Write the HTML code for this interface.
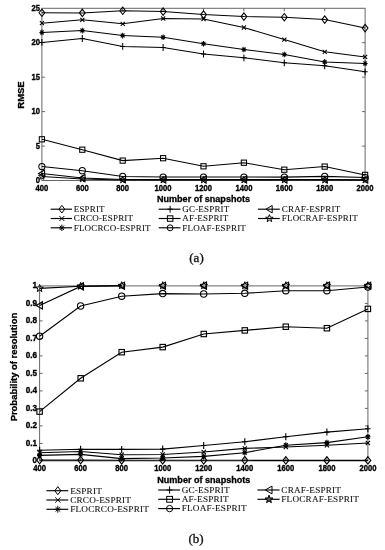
<!DOCTYPE html>
<html><head><meta charset="utf-8"><title>Figure</title>
<style>
html,body{margin:0;padding:0;background:#fff}
svg{display:block}
.tick text{font-family:"Liberation Sans",sans-serif;font-weight:bold;font-size:8.5px;fill:#000;stroke:#000;stroke-width:0.35px}
.tick text.lab{font-size:9.45px;stroke-width:0.32px}
.leg{font-family:"Liberation Serif",serif;font-size:7.4px;letter-spacing:1.18px;fill:#111;stroke:#111;stroke-width:0.08px}
.cap{font-family:"Liberation Serif","DejaVu Serif",serif;font-size:12.3px;fill:#111;stroke:#111;stroke-width:0.3px}
</style></head><body>
<svg width="385" height="550" viewBox="0 0 385 550">
<rect width="385" height="550" fill="#fff"/>
<g stroke="#666" stroke-width="1" fill="none">
<rect x="41.9" y="8.3" width="323.2" height="172.2"/>
<path d="M82.3 180.5v-3M82.3 8.3v3M122.7 180.5v-3M122.7 8.3v3M163.1 180.5v-3M163.1 8.3v3M203.5 180.5v-3M203.5 8.3v3M243.9 180.5v-3M243.9 8.3v3M284.3 180.5v-3M284.3 8.3v3M324.7 180.5v-3M324.7 8.3v3M41.9 146.1h3M365.1 146.1h-3M41.9 111.6h3M365.1 111.6h-3M41.9 77.2h3M365.1 77.2h-3M41.9 42.7h3M365.1 42.7h-3"/>
</g>
<g class="tick">
<text transform="translate(41.9 190.6) scale(0.9 1)" text-anchor="middle">400</text>
<text transform="translate(82.3 190.6) scale(0.9 1)" text-anchor="middle">600</text>
<text transform="translate(122.7 190.6) scale(0.9 1)" text-anchor="middle">800</text>
<text transform="translate(163.1 190.6) scale(0.9 1)" text-anchor="middle">1000</text>
<text transform="translate(203.5 190.6) scale(0.9 1)" text-anchor="middle">1200</text>
<text transform="translate(243.9 190.6) scale(0.9 1)" text-anchor="middle">1400</text>
<text transform="translate(284.3 190.6) scale(0.9 1)" text-anchor="middle">1600</text>
<text transform="translate(324.7 190.6) scale(0.9 1)" text-anchor="middle">1800</text>
<text transform="translate(365.1 190.6) scale(0.9 1)" text-anchor="middle">2000</text>
<text transform="translate(39.9 182.9) scale(0.9 1)" text-anchor="end">0</text>
<text transform="translate(39.9 148.5) scale(0.9 1)" text-anchor="end">5</text>
<text transform="translate(39.9 114.0) scale(0.9 1)" text-anchor="end">10</text>
<text transform="translate(39.9 79.6) scale(0.9 1)" text-anchor="end">15</text>
<text transform="translate(39.9 45.1) scale(0.9 1)" text-anchor="end">20</text>
<text transform="translate(39.9 10.7) scale(0.9 1)" text-anchor="end">25</text>
<text class="lab" transform="translate(203.5 202.0) scale(0.96 1)" text-anchor="middle">Number of snapshots</text>
<text class="lab" transform="translate(24.2 95.0) rotate(-90) scale(1 0.96)" text-anchor="middle">RMSE</text>
</g>
<g stroke="#000" stroke-width="1.05" stroke-linejoin="miter">
<polyline points="41.9,12.8 82.3,12.9 122.7,10.8 163.1,11.6 203.5,14.6 243.9,16.6 284.3,17.2 324.7,19.6 365.1,28.1" fill="none"/>
<path d="M39.0 12.8L41.9 9.1L44.8 12.8L41.9 16.5Z" fill="none"/>
<path d="M79.5 12.9L82.3 9.2L85.2 12.9L82.3 16.6Z" fill="none"/>
<path d="M119.9 10.8L122.7 7.1L125.6 10.8L122.7 14.5Z" fill="none"/>
<path d="M160.3 11.6L163.1 7.9L166.0 11.6L163.1 15.3Z" fill="none"/>
<path d="M200.7 14.6L203.5 10.9L206.4 14.6L203.5 18.3Z" fill="none"/>
<path d="M241.1 16.6L243.9 12.9L246.8 16.6L243.9 20.3Z" fill="none"/>
<path d="M281.4 17.2L284.3 13.5L287.2 17.2L284.3 20.9Z" fill="none"/>
<path d="M321.9 19.6L324.7 15.9L327.6 19.6L324.7 23.3Z" fill="none"/>
<path d="M362.2 28.1L365.1 24.4L368.0 28.1L365.1 31.8Z" fill="none"/>
<polyline points="41.9,23.2 82.3,19.8 122.7,23.8 163.1,18.5 203.5,19.0 243.9,27.5 284.3,39.6 324.7,51.8 365.1,56.9" fill="none"/>
<path d="M39.9 21.1L43.9 25.2M39.9 25.2L43.9 21.1"/>
<path d="M80.3 17.8L84.4 21.9M80.3 21.9L84.4 17.8"/>
<path d="M120.7 21.8L124.8 25.9M120.7 25.9L124.8 21.8"/>
<path d="M161.1 16.4L165.2 20.6M161.1 20.6L165.2 16.4"/>
<path d="M201.5 16.9L205.6 21.1M201.5 21.1L205.6 16.9"/>
<path d="M241.9 25.4L246.0 29.6M241.9 29.6L246.0 25.4"/>
<path d="M282.2 37.6L286.4 41.6M282.2 41.6L286.4 37.6"/>
<path d="M322.7 49.8L326.8 53.8M322.7 53.8L326.8 49.8"/>
<path d="M363.1 54.9L367.2 58.9M363.1 58.9L367.2 54.9"/>
<polyline points="41.9,32.4 82.3,30.6 122.7,35.6 163.1,37.2 203.5,43.7 243.9,49.5 284.3,54.5 324.7,61.9 365.1,63.4" fill="none"/>
<path d="M39.4 32.4L44.4 32.4M41.9 29.6L41.9 35.2M40.0 30.5L43.8 34.3M40.0 34.3L43.8 30.5"/>
<path d="M79.8 30.6L84.8 30.6M82.3 27.8L82.3 33.4M80.4 28.7L84.2 32.5M80.4 32.5L84.2 28.7"/>
<path d="M120.2 35.6L125.2 35.6M122.7 32.8L122.7 38.4M120.8 33.7L124.6 37.5M120.8 37.5L124.6 33.7"/>
<path d="M160.6 37.2L165.6 37.2M163.1 34.4L163.1 40.0M161.2 35.3L165.0 39.1M161.2 39.1L165.0 35.3"/>
<path d="M201.0 43.7L206.0 43.7M203.5 40.9L203.5 46.5M201.6 41.8L205.4 45.6M201.6 45.6L205.4 41.8"/>
<path d="M241.4 49.5L246.4 49.5M243.9 46.7L243.9 52.3M242.0 47.6L245.8 51.4M242.0 51.4L245.8 47.6"/>
<path d="M281.8 54.5L286.8 54.5M284.3 51.7L284.3 57.3M282.4 52.6L286.2 56.4M282.4 56.4L286.2 52.6"/>
<path d="M322.2 61.9L327.2 61.9M324.7 59.1L324.7 64.7M322.8 60.0L326.6 63.8M322.8 63.8L326.6 60.0"/>
<path d="M362.6 63.4L367.6 63.4M365.1 60.6L365.1 66.2M363.2 61.5L367.0 65.3M363.2 65.3L367.0 61.5"/>
<polyline points="41.9,42.4 82.3,38.5 122.7,46.4 163.1,47.5 203.5,54.0 243.9,57.8 284.3,62.8 324.7,65.8 365.1,71.8" fill="none"/>
<path d="M39.3 42.4L44.5 42.4M41.9 39.0L41.9 45.8"/>
<path d="M79.7 38.5L84.9 38.5M82.3 35.1L82.3 41.9"/>
<path d="M120.1 46.4L125.3 46.4M122.7 43.0L122.7 49.8"/>
<path d="M160.5 47.5L165.7 47.5M163.1 44.1L163.1 50.9"/>
<path d="M200.9 54.0L206.1 54.0M203.5 50.6L203.5 57.4"/>
<path d="M241.3 57.8L246.5 57.8M243.9 54.4L243.9 61.2"/>
<path d="M281.7 62.8L286.9 62.8M284.3 59.4L284.3 66.2"/>
<path d="M322.1 65.8L327.3 65.8M324.7 62.4L324.7 69.2"/>
<path d="M362.5 71.8L367.7 71.8M365.1 68.4L365.1 75.2"/>
<polyline points="41.9,139.3 82.3,149.7 122.7,160.6 163.1,158.2 203.5,166.3 243.9,162.7 284.3,169.7 324.7,166.6 365.1,174.9" fill="none"/>
<rect x="39.3" y="136.7" width="5.2" height="5.2" fill="none"/>
<rect x="79.7" y="147.1" width="5.2" height="5.2" fill="none"/>
<rect x="120.1" y="158.0" width="5.2" height="5.2" fill="none"/>
<rect x="160.5" y="155.6" width="5.2" height="5.2" fill="none"/>
<rect x="200.9" y="163.7" width="5.2" height="5.2" fill="none"/>
<rect x="241.3" y="160.1" width="5.2" height="5.2" fill="none"/>
<rect x="281.7" y="167.1" width="5.2" height="5.2" fill="none"/>
<rect x="322.1" y="164.0" width="5.2" height="5.2" fill="none"/>
<rect x="362.5" y="172.3" width="5.2" height="5.2" fill="none"/>
<polyline points="41.9,166.6 82.3,170.7 122.7,176.4 163.1,177.0 203.5,177.0 243.9,177.0 284.3,177.1 324.7,176.4 365.1,177.5" fill="none"/>
<ellipse cx="41.9" cy="166.6" rx="3.06" ry="3.1" fill="none"/>
<ellipse cx="82.3" cy="170.7" rx="3.06" ry="3.1" fill="none"/>
<ellipse cx="122.7" cy="176.4" rx="3.06" ry="3.1" fill="none"/>
<ellipse cx="163.1" cy="177.0" rx="3.06" ry="3.1" fill="none"/>
<ellipse cx="203.5" cy="177.0" rx="3.06" ry="3.1" fill="none"/>
<ellipse cx="243.9" cy="177.0" rx="3.06" ry="3.1" fill="none"/>
<ellipse cx="284.3" cy="177.1" rx="3.06" ry="3.1" fill="none"/>
<ellipse cx="324.7" cy="176.4" rx="3.06" ry="3.1" fill="none"/>
<ellipse cx="365.1" cy="177.5" rx="3.06" ry="3.1" fill="none"/>
<polyline points="41.9,173.5 82.3,178.0 122.7,179.4 163.1,179.6 203.5,179.6 243.9,179.6 284.3,179.6 324.7,179.6 365.1,179.7" fill="none"/>
<path d="M38.6 173.5L44.6 170.0L44.6 177.0Z" fill="none"/>
<path d="M79.0 178.0L85.0 174.5L85.0 181.5Z" fill="none"/>
<path d="M119.4 179.4L125.4 175.9L125.4 182.9Z" fill="none"/>
<path d="M159.8 179.6L165.8 176.1L165.8 183.1Z" fill="none"/>
<path d="M200.2 179.6L206.2 176.1L206.2 183.1Z" fill="none"/>
<path d="M240.6 179.6L246.6 176.1L246.6 183.1Z" fill="none"/>
<path d="M281.0 179.6L287.0 176.1L287.0 183.1Z" fill="none"/>
<path d="M321.4 179.6L327.4 176.1L327.4 183.1Z" fill="none"/>
<path d="M361.8 179.7L367.8 176.2L367.8 183.2Z" fill="none"/>
<polyline points="41.9,176.4 82.3,179.0 122.7,179.9 163.1,180.0 203.5,180.0 243.9,180.0 284.3,180.0 324.7,180.0 365.1,180.1" fill="none"/>
<path stroke-linejoin="bevel" stroke-width="0.95" d="M41.90 172.80L42.79 175.18L45.32 175.29L43.34 176.87L44.02 179.31L41.90 177.91L39.78 179.31L40.46 176.87L38.48 175.29L41.01 175.18Z" fill="none"/>
<path stroke-linejoin="bevel" stroke-width="0.95" d="M82.30 175.40L83.19 177.78L85.72 177.89L83.74 179.47L84.42 181.91L82.30 180.51L80.18 181.91L80.86 179.47L78.88 177.89L81.41 177.78Z" fill="none"/>
<path stroke-linejoin="bevel" stroke-width="0.95" d="M122.70 176.30L123.59 178.68L126.12 178.79L124.14 180.37L124.82 182.81L122.70 181.41L120.58 182.81L121.26 180.37L119.28 178.79L121.81 178.68Z" fill="none"/>
<path stroke-linejoin="bevel" stroke-width="0.95" d="M163.10 176.40L163.99 178.78L166.52 178.89L164.54 180.47L165.22 182.91L163.10 181.51L160.98 182.91L161.66 180.47L159.68 178.89L162.21 178.78Z" fill="none"/>
<path stroke-linejoin="bevel" stroke-width="0.95" d="M203.50 176.40L204.39 178.78L206.92 178.89L204.94 180.47L205.62 182.91L203.50 181.51L201.38 182.91L202.06 180.47L200.08 178.89L202.61 178.78Z" fill="none"/>
<path stroke-linejoin="bevel" stroke-width="0.95" d="M243.90 176.40L244.79 178.78L247.32 178.89L245.34 180.47L246.02 182.91L243.90 181.51L241.78 182.91L242.46 180.47L240.48 178.89L243.01 178.78Z" fill="none"/>
<path stroke-linejoin="bevel" stroke-width="0.95" d="M284.30 176.40L285.19 178.78L287.72 178.89L285.74 180.47L286.42 182.91L284.30 181.51L282.18 182.91L282.86 180.47L280.88 178.89L283.41 178.78Z" fill="none"/>
<path stroke-linejoin="bevel" stroke-width="0.95" d="M324.70 176.40L325.59 178.78L328.12 178.89L326.14 180.47L326.82 182.91L324.70 181.51L322.58 182.91L323.26 180.47L321.28 178.89L323.81 178.78Z" fill="none"/>
<path stroke-linejoin="bevel" stroke-width="0.95" d="M365.10 176.50L365.99 178.88L368.52 178.99L366.54 180.57L367.22 183.01L365.10 181.61L362.98 183.01L363.66 180.57L361.68 178.99L364.21 178.88Z" fill="none"/>
</g>
<g stroke="#000" stroke-width="1.0"><path stroke-width="1.15" d="M50.7 209.2H72.0"/><path d="M58.9 209.2L61.9 205.4L64.8 209.2L61.9 213.0Z" fill="none"/></g>
<text class="leg" style="font-size:8.2px;letter-spacing:0.16px" transform="translate(73.7 212.0) scale(1.1 1)">ESPRIT</text>
<g stroke="#000" stroke-width="1.0"><path stroke-width="1.15" d="M50.7 218.5H72.0"/><path d="M59.4 216.0L64.3 221.0M59.4 221.0L64.3 216.0"/></g>
<text class="leg" style="font-size:8.2px;letter-spacing:0.16px" transform="translate(73.7 221.3) scale(1.1 1)">CRCO-ESPRIT</text>
<g stroke="#000" stroke-width="1.0"><path stroke-width="1.15" d="M50.7 227.8H72.0"/><path d="M59.0 227.8L64.7 227.8M61.9 224.6L61.9 231.0M59.7 225.6L64.0 230.0M59.7 230.0L64.0 225.6"/></g>
<text class="leg" style="font-size:8.2px;letter-spacing:0.16px" transform="translate(73.7 230.6) scale(1.1 1)">FLOCRCO-ESPRIT</text>
<g stroke="#000" stroke-width="1.0"><path stroke-width="1.15" d="M158.7 209.2H180.5"/><path d="M167.5 209.2L172.7 209.2M170.1 205.8L170.1 212.6"/></g>
<text class="leg" style="font-size:8.2px;letter-spacing:0.16px" transform="translate(182.3 212.0) scale(1.1 1)">GC-ESPRIT</text>
<g stroke="#000" stroke-width="1.0"><path stroke-width="1.15" d="M158.7 218.5H180.5"/><rect x="167.4" y="215.8" width="5.5" height="5.5" fill="none"/></g>
<text class="leg" style="font-size:8.2px;letter-spacing:0.16px" transform="translate(182.3 221.3) scale(1.1 1)">AF-ESPRIT</text>
<g stroke="#000" stroke-width="1.0"><path stroke-width="1.15" d="M158.7 227.8H180.5"/><ellipse cx="170.1" cy="227.8" rx="2.90" ry="3.0" fill="none"/></g>
<text class="leg" style="font-size:8.2px;letter-spacing:0.16px" transform="translate(182.3 230.6) scale(1.1 1)">FLOAF-ESPRIT</text>
<g stroke="#000" stroke-width="1.0"><path stroke-width="1.15" d="M258.0 209.2H279.8"/><path d="M265.9 209.2L272.2 205.5L272.2 212.9Z" fill="none"/></g>
<text class="leg" style="font-size:8.2px;letter-spacing:0.16px" transform="translate(281.8 212.0) scale(1.1 1)">CRAF-ESPRIT</text>
<g stroke="#000" stroke-width="1.0"><path stroke-width="1.15" d="M258.0 218.5H279.8"/><path stroke-linejoin="bevel" stroke-width="0.95" d="M269.40 214.61L270.36 217.18L273.10 217.30L270.95 219.00L271.69 221.65L269.40 220.13L267.11 221.65L267.85 219.00L265.70 217.30L268.44 217.18Z" fill="none"/></g>
<text class="leg" style="font-size:8.2px;letter-spacing:0.16px" transform="translate(281.8 221.3) scale(1.1 1)">FLOCRAF-ESPRIT</text>
<text class="cap" transform="translate(196.5 262) scale(1.06 1)" text-anchor="middle">(a)</text>
<g stroke="#666" stroke-width="1" fill="none">
<rect x="39.6" y="285.9" width="328.3" height="175.0"/>
<path d="M80.6 460.9v-3M80.6 285.9v3M121.7 460.9v-3M121.7 285.9v3M162.7 460.9v-3M162.7 285.9v3M203.7 460.9v-3M203.7 285.9v3M244.8 460.9v-3M244.8 285.9v3M285.8 460.9v-3M285.8 285.9v3M326.9 460.9v-3M326.9 285.9v3M39.6 443.4h3M367.9 443.4h-3M39.6 425.9h3M367.9 425.9h-3M39.6 408.4h3M367.9 408.4h-3M39.6 390.9h3M367.9 390.9h-3M39.6 373.4h3M367.9 373.4h-3M39.6 355.9h3M367.9 355.9h-3M39.6 338.4h3M367.9 338.4h-3M39.6 320.9h3M367.9 320.9h-3M39.6 303.4h3M367.9 303.4h-3"/>
</g>
<g class="tick">
<text transform="translate(39.6 470.9) scale(0.9 1)" text-anchor="middle">400</text>
<text transform="translate(80.6 470.9) scale(0.9 1)" text-anchor="middle">600</text>
<text transform="translate(121.7 470.9) scale(0.9 1)" text-anchor="middle">800</text>
<text transform="translate(162.7 470.9) scale(0.9 1)" text-anchor="middle">1000</text>
<text transform="translate(203.7 470.9) scale(0.9 1)" text-anchor="middle">1200</text>
<text transform="translate(244.8 470.9) scale(0.9 1)" text-anchor="middle">1400</text>
<text transform="translate(285.8 470.9) scale(0.9 1)" text-anchor="middle">1600</text>
<text transform="translate(326.9 470.9) scale(0.9 1)" text-anchor="middle">1800</text>
<text transform="translate(367.9 470.9) scale(0.9 1)" text-anchor="middle">2000</text>
<text transform="translate(37.0 463.3) scale(0.96 1)" text-anchor="end">0</text>
<text transform="translate(37.0 445.8) scale(0.96 1)" text-anchor="end">0.1</text>
<text transform="translate(37.0 428.3) scale(0.96 1)" text-anchor="end">0.2</text>
<text transform="translate(37.0 410.8) scale(0.96 1)" text-anchor="end">0.3</text>
<text transform="translate(37.0 393.3) scale(0.96 1)" text-anchor="end">0.4</text>
<text transform="translate(37.0 375.8) scale(0.96 1)" text-anchor="end">0.5</text>
<text transform="translate(37.0 358.3) scale(0.96 1)" text-anchor="end">0.6</text>
<text transform="translate(37.0 340.8) scale(0.96 1)" text-anchor="end">0.7</text>
<text transform="translate(37.0 323.3) scale(0.96 1)" text-anchor="end">0.8</text>
<text transform="translate(37.0 305.8) scale(0.96 1)" text-anchor="end">0.9</text>
<text transform="translate(37.0 288.3) scale(0.96 1)" text-anchor="end">1</text>
<text class="lab" transform="translate(203.8 483.2) scale(0.96 1)" text-anchor="middle">Number of snapshots</text>
<text class="lab" transform="translate(17.1 367.1) rotate(-90) scale(1 0.96)" text-anchor="middle">Probability of resolution</text>
</g>
<g stroke="#000" stroke-width="1.12" stroke-linejoin="miter">
<polyline points="39.6,460.1 80.6,460.1 121.7,460.2 162.7,460.2 203.7,460.3 244.8,460.3 285.8,460.4 326.9,460.4 367.9,460.4" fill="none"/>
<path d="M36.7 460.1L39.6 456.3L42.5 460.1L39.6 463.9Z" fill="none"/>
<path d="M77.7 460.1L80.6 456.3L83.6 460.1L80.6 463.9Z" fill="none"/>
<path d="M118.7 460.2L121.7 456.4L124.6 460.2L121.7 464.0Z" fill="none"/>
<path d="M159.8 460.2L162.7 456.4L165.6 460.2L162.7 464.0Z" fill="none"/>
<path d="M200.8 460.3L203.7 456.5L206.7 460.3L203.7 464.1Z" fill="none"/>
<path d="M241.9 460.3L244.8 456.5L247.7 460.3L244.8 464.1Z" fill="none"/>
<path d="M282.9 460.4L285.8 456.6L288.8 460.4L285.8 464.2Z" fill="none"/>
<path d="M323.9 460.4L326.9 456.6L329.8 460.4L326.9 464.2Z" fill="none"/>
<path d="M365.0 460.4L367.9 456.6L370.8 460.4L367.9 464.2Z" fill="none"/>
<polyline points="39.6,452.8 80.6,451.5 121.7,454.7 162.7,454.5 203.7,452.0 244.8,448.4 285.8,447.0 326.9,445.2 367.9,443.0" fill="none"/>
<path d="M37.5 450.7L41.7 454.9M37.5 454.9L41.7 450.7"/>
<path d="M78.5 449.4L82.7 453.6M78.5 453.6L82.7 449.4"/>
<path d="M119.6 452.6L123.8 456.8M119.6 456.8L123.8 452.6"/>
<path d="M160.6 452.4L164.8 456.6M160.6 456.6L164.8 452.4"/>
<path d="M201.6 449.9L205.9 454.1M201.6 454.1L205.9 449.9"/>
<path d="M242.7 446.3L246.9 450.5M242.7 450.5L246.9 446.3"/>
<path d="M283.7 444.9L287.9 449.1M283.7 449.1L287.9 444.9"/>
<path d="M324.8 443.1L329.0 447.3M324.8 447.3L329.0 443.1"/>
<path d="M365.8 440.9L370.0 445.1M365.8 445.1L370.0 440.9"/>
<polyline points="39.6,455.4 80.6,454.4 121.7,458.6 162.7,458.0 203.7,456.4 244.8,452.7 285.8,445.2 326.9,442.6 367.9,436.8" fill="none"/>
<path d="M37.0 455.4L42.2 455.4M39.6 452.5L39.6 458.3M37.6 453.4L41.6 457.4M37.6 457.4L41.6 453.4"/>
<path d="M78.1 454.4L83.2 454.4M80.6 451.5L80.6 457.3M78.7 452.4L82.6 456.4M78.7 456.4L82.6 452.4"/>
<path d="M119.1 458.6L124.2 458.6M121.7 455.7L121.7 461.5M119.7 456.6L123.6 460.6M119.7 460.6L123.6 456.6"/>
<path d="M160.1 458.0L165.3 458.0M162.7 455.1L162.7 460.9M160.8 456.0L164.7 460.0M160.8 460.0L164.7 456.0"/>
<path d="M201.2 456.4L206.3 456.4M203.7 453.5L203.7 459.3M201.8 454.4L205.7 458.4M201.8 458.4L205.7 454.4"/>
<path d="M242.2 452.7L247.4 452.7M244.8 449.8L244.8 455.6M242.8 450.7L246.7 454.7M242.8 454.7L246.7 450.7"/>
<path d="M283.2 445.2L288.4 445.2M285.8 442.3L285.8 448.1M283.9 443.2L287.8 447.2M283.9 447.2L287.8 443.2"/>
<path d="M324.3 442.6L329.4 442.6M326.9 439.7L326.9 445.5M324.9 440.6L328.8 444.6M324.9 444.6L328.8 440.6"/>
<path d="M365.3 436.8L370.5 436.8M367.9 433.9L367.9 439.7M365.9 434.8L369.9 438.8M365.9 438.8L369.9 434.8"/>
<polyline points="39.6,450.2 80.6,449.2 121.7,449.4 162.7,449.1 203.7,445.5 244.8,441.8 285.8,436.8 326.9,432.1 367.9,428.8" fill="none"/>
<path d="M36.9 450.2L42.3 450.2M39.6 446.7L39.6 453.7"/>
<path d="M78.0 449.2L83.3 449.2M80.6 445.7L80.6 452.7"/>
<path d="M119.0 449.4L124.4 449.4M121.7 445.9L121.7 452.9"/>
<path d="M160.0 449.1L165.4 449.1M162.7 445.6L162.7 452.6"/>
<path d="M201.1 445.5L206.4 445.5M203.7 442.0L203.7 449.0"/>
<path d="M242.1 441.8L247.5 441.8M244.8 438.3L244.8 445.3"/>
<path d="M283.1 436.8L288.5 436.8M285.8 433.3L285.8 440.3"/>
<path d="M324.2 432.1L329.5 432.1M326.9 428.6L326.9 435.6"/>
<path d="M365.2 428.8L370.6 428.8M367.9 425.3L367.9 432.3"/>
<polyline points="39.6,411.6 80.6,378.3 121.7,352.2 162.7,347.1 203.7,334.0 244.8,330.4 285.8,326.7 326.9,328.2 367.9,308.9" fill="none"/>
<rect x="36.9" y="408.9" width="5.4" height="5.4" fill="none"/>
<rect x="78.0" y="375.6" width="5.4" height="5.4" fill="none"/>
<rect x="119.0" y="349.5" width="5.4" height="5.4" fill="none"/>
<rect x="160.0" y="344.4" width="5.4" height="5.4" fill="none"/>
<rect x="201.1" y="331.3" width="5.4" height="5.4" fill="none"/>
<rect x="242.1" y="327.7" width="5.4" height="5.4" fill="none"/>
<rect x="283.1" y="324.0" width="5.4" height="5.4" fill="none"/>
<rect x="324.2" y="325.5" width="5.4" height="5.4" fill="none"/>
<rect x="365.2" y="306.2" width="5.4" height="5.4" fill="none"/>
<polyline points="39.6,336.2 80.6,306.0 121.7,296.2 162.7,293.6 203.7,294.0 244.8,293.3 285.8,290.7 326.9,290.7 367.9,287.0" fill="none"/>
<ellipse cx="39.6" cy="336.2" rx="3.15" ry="3.2" fill="none"/>
<ellipse cx="80.6" cy="306.0" rx="3.15" ry="3.2" fill="none"/>
<ellipse cx="121.7" cy="296.2" rx="3.15" ry="3.2" fill="none"/>
<ellipse cx="162.7" cy="293.6" rx="3.15" ry="3.2" fill="none"/>
<ellipse cx="203.7" cy="294.0" rx="3.15" ry="3.2" fill="none"/>
<ellipse cx="244.8" cy="293.3" rx="3.15" ry="3.2" fill="none"/>
<ellipse cx="285.8" cy="290.7" rx="3.15" ry="3.2" fill="none"/>
<ellipse cx="326.9" cy="290.7" rx="3.15" ry="3.2" fill="none"/>
<ellipse cx="367.9" cy="287.0" rx="3.15" ry="3.2" fill="none"/>
<polyline points="39.6,288.4 80.6,286.2 121.7,285.6" fill="none"/>
<path stroke-linejoin="bevel" stroke-width="1.0" d="M39.60 284.49L40.57 287.07L43.32 287.19L41.16 288.91L41.90 291.57L39.60 290.04L37.30 291.57L38.04 288.91L35.88 287.19L38.63 287.07Z" fill="none"/>
<path stroke-linejoin="bevel" stroke-width="1.0" d="M80.64 282.29L81.60 284.87L84.36 284.99L82.20 286.71L82.94 289.37L80.64 287.84L78.34 289.37L79.07 286.71L76.92 284.99L79.67 284.87Z" fill="none"/>
<path stroke-linejoin="bevel" stroke-width="1.0" d="M121.67 281.69L122.64 284.27L125.40 284.39L123.24 286.11L123.98 288.77L121.67 287.24L119.37 288.77L120.11 286.11L117.95 284.39L120.71 284.27Z" fill="none"/>
<path stroke-linejoin="bevel" stroke-width="1.0" d="M162.71 281.69L163.68 284.27L166.43 284.39L164.28 286.11L165.01 288.77L162.71 287.24L160.41 288.77L161.15 286.11L158.99 284.39L161.75 284.27Z" fill="none"/>
<path stroke-linejoin="bevel" stroke-width="1.0" d="M203.75 281.69L204.72 284.27L207.47 284.39L205.31 286.11L206.05 288.77L203.75 287.24L201.45 288.77L202.19 286.11L200.03 284.39L202.78 284.27Z" fill="none"/>
<path stroke-linejoin="bevel" stroke-width="1.0" d="M244.79 281.69L245.75 284.27L248.51 284.39L246.35 286.11L247.09 288.77L244.79 287.24L242.49 288.77L243.22 286.11L241.07 284.39L243.82 284.27Z" fill="none"/>
<path stroke-linejoin="bevel" stroke-width="1.0" d="M285.82 281.69L286.79 284.27L289.55 284.39L287.39 286.11L288.13 288.77L285.82 287.24L283.52 288.77L284.26 286.11L282.10 284.39L284.86 284.27Z" fill="none"/>
<path stroke-linejoin="bevel" stroke-width="1.0" d="M326.86 281.69L327.83 284.27L330.58 284.39L328.43 286.11L329.16 288.77L326.86 287.24L324.56 288.77L325.30 286.11L323.14 284.39L325.90 284.27Z" fill="none"/>
<path stroke-linejoin="bevel" stroke-width="1.0" d="M367.90 281.69L368.87 284.27L371.62 284.39L369.46 286.11L370.20 288.77L367.90 287.24L365.60 288.77L366.34 286.11L364.18 284.39L366.93 284.27Z" fill="none"/>
<polyline points="39.6,305.4 80.6,286.4 121.7,285.7" fill="none"/>
<path d="M36.2 305.4L42.4 301.8L42.4 309.0Z" fill="none"/>
<path d="M77.2 286.4L83.4 282.8L83.4 290.0Z" fill="none"/>
<path d="M118.3 285.7L124.5 282.1L124.5 289.3Z" fill="none"/>
<path d="M159.3 285.7L165.5 282.1L165.5 289.3Z" fill="none"/>
<path d="M200.4 285.7L206.5 282.1L206.5 289.3Z" fill="none"/>
<path d="M241.4 285.7L247.6 282.1L247.6 289.3Z" fill="none"/>
<path d="M282.4 285.7L288.6 282.1L288.6 289.3Z" fill="none"/>
<path d="M323.5 285.7L329.6 282.1L329.6 289.3Z" fill="none"/>
<path d="M364.5 285.7L370.7 282.1L370.7 289.3Z" fill="none"/>
</g>
<g stroke="#000" stroke-width="1.0"><path stroke-width="1.15" d="M46.4 490.7H68.3"/><path d="M54.8 490.7L57.8 486.7L60.9 490.7L57.8 494.7Z" fill="none"/></g>
<text class="leg" style="font-size:8.4px;letter-spacing:0.16px" transform="translate(70.2 493.5) scale(1.1 1)">ESPRIT</text>
<g stroke="#000" stroke-width="1.0"><path stroke-width="1.15" d="M46.4 500.0H68.3"/><path d="M55.2 497.4L60.5 502.6M55.2 502.6L60.5 497.4"/></g>
<text class="leg" style="font-size:8.4px;letter-spacing:0.16px" transform="translate(70.2 502.8) scale(1.1 1)">CRCO-ESPRIT</text>
<g stroke="#000" stroke-width="1.0"><path stroke-width="1.15" d="M46.4 509.3H68.3"/><path d="M54.8 509.3L60.9 509.3M57.8 505.9L57.8 512.7M55.5 507.0L60.2 511.6M55.5 511.6L60.2 507.0"/></g>
<text class="leg" style="font-size:8.4px;letter-spacing:0.16px" transform="translate(70.2 512.1) scale(1.1 1)">FLOCRCO-ESPRIT</text>
<g stroke="#000" stroke-width="1.0"><path stroke-width="1.15" d="M158.2 490.0H180.0"/><path d="M166.8 490.0L172.4 490.0M169.6 486.4L169.6 493.6"/></g>
<text class="leg" style="font-size:8.4px;letter-spacing:0.16px" transform="translate(181.7 492.8) scale(1.1 1)">GC-ESPRIT</text>
<g stroke="#000" stroke-width="1.0"><path stroke-width="1.15" d="M158.2 499.3H180.0"/><rect x="166.7" y="496.4" width="5.8" height="5.8" fill="none"/></g>
<text class="leg" style="font-size:8.4px;letter-spacing:0.16px" transform="translate(181.7 502.1) scale(1.1 1)">AF-ESPRIT</text>
<g stroke="#000" stroke-width="1.0"><path stroke-width="1.15" d="M158.2 508.6H180.0"/><ellipse cx="169.6" cy="508.6" rx="3.08" ry="3.2" fill="none"/></g>
<text class="leg" style="font-size:8.4px;letter-spacing:0.16px" transform="translate(181.7 511.4) scale(1.1 1)">FLOAF-ESPRIT</text>
<g stroke="#000" stroke-width="1.0"><path stroke-width="1.15" d="M257.4 490.0H279.6"/><path d="M265.3 490.0L272.0 486.1L272.0 493.9Z" fill="none"/></g>
<text class="leg" style="font-size:8.4px;letter-spacing:0.16px" transform="translate(281.3 492.8) scale(1.1 1)">CRAF-ESPRIT</text>
<g stroke="#000" stroke-width="1.0"><path stroke-width="1.15" d="M257.4 499.3H279.6"/><path stroke-linejoin="bevel" stroke-width="1.0" d="M269.00 495.18L270.02 497.90L272.92 498.03L270.65 499.83L271.42 502.63L269.00 501.03L266.58 502.63L267.35 499.83L265.08 498.03L267.98 497.90Z" fill="#555"/></g>
<text class="leg" style="font-size:8.4px;letter-spacing:0.16px" transform="translate(281.3 502.1) scale(1.1 1)">FLOCRAF-ESPRIT</text>
<text class="cap" transform="translate(196.1 543.2) scale(1.06 1)" text-anchor="middle">(b)</text>
</svg>
</body></html>
